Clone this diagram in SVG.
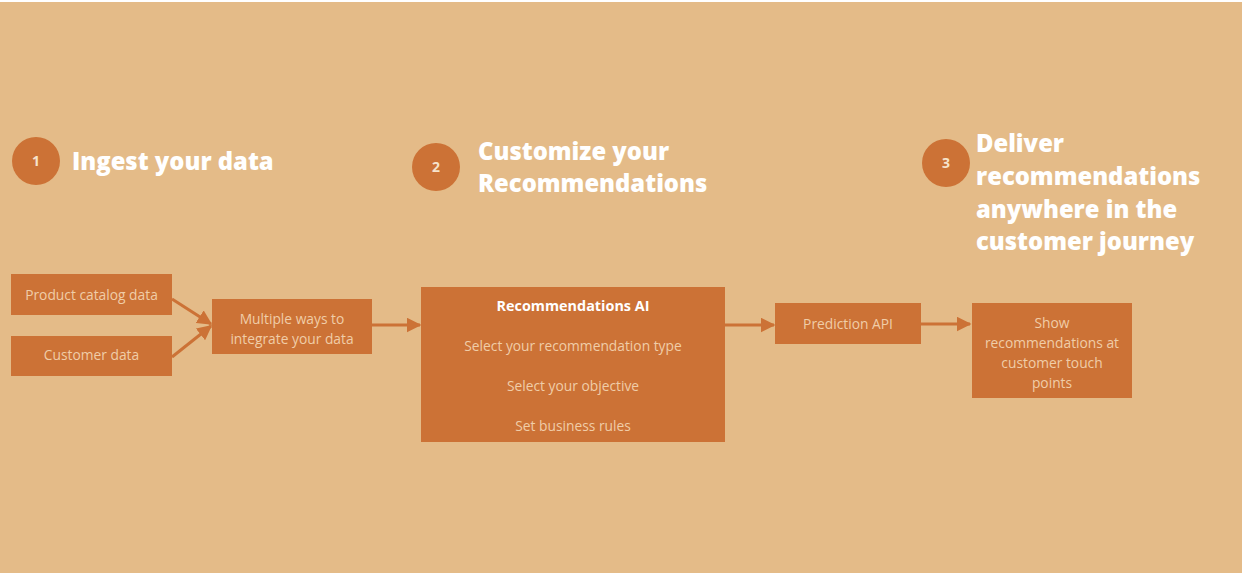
<svg xmlns="http://www.w3.org/2000/svg" width="1248" height="579" viewBox="0 0 1248 579">
<style>
.box{fill:#CC7236;}
.circ{fill:#CC7236;}
.num{font-family:"Open Sans",sans-serif;font-weight:700;font-size:14px;fill:#F6E3CC;text-anchor:middle;}
.head{font-family:"Open Sans",sans-serif;font-weight:800;font-size:23.8px;fill:#FFFFFF;}
.t{font-family:"Open Sans",sans-serif;font-size:13.8px;fill:#F0CDA8;text-anchor:middle;}
.tb{font-family:"Open Sans",sans-serif;font-weight:700;font-size:14.4px;fill:#FFFFFF;text-anchor:middle;}
.conn{stroke:#CC7236;stroke-width:3;fill:none;}
</style>
<defs>
<marker id="ah" viewBox="0 0 10 10" refX="9" refY="5" markerWidth="5" markerHeight="5" markerUnits="strokeWidth" orient="auto">
<path d="M0,0 L10,5 L0,10 Z" fill="#CC7236"/>
</marker>
</defs>
<rect x="0" y="0" width="1248" height="579" fill="#FFFFFF"/>
<rect x="0" y="2" width="1242" height="571" fill="#E4BB88"/>

<g id="step1">
<circle class="circ" cx="36" cy="161" r="24"/>
<text class="num" x="36" y="166">1</text>
<text class="head" x="72" y="170">Ingest your data</text>
</g>
<g id="step2">
<circle class="circ" cx="436" cy="167" r="24"/>
<text class="num" x="436" y="172">2</text>
<text class="head" x="478" y="160">Customize your</text>
<text class="head" x="478" y="192">Recommendations</text>
</g>
<g id="step3">
<circle class="circ" cx="946" cy="163" r="24"/>
<text class="num" x="946" y="168">3</text>
<text class="head" x="976" y="152">Deliver</text>
<text class="head" x="976" y="185">recommendations</text>
<text class="head" x="976" y="218">anywhere in the</text>
<text class="head" x="976" y="250">customer journey</text>
</g>

<g id="connectors">
<line class="conn" x1="172" y1="299" x2="211" y2="324" marker-end="url(#ah)"/>
<line class="conn" x1="172" y1="357" x2="211" y2="326" marker-end="url(#ah)"/>
<line class="conn" x1="372" y1="325" x2="420" y2="325" marker-end="url(#ah)"/>
<line class="conn" x1="725" y1="325" x2="774" y2="325" marker-end="url(#ah)"/>
<line class="conn" x1="921" y1="324" x2="970" y2="324" marker-end="url(#ah)"/>
</g>

<g id="product-catalog">
<rect class="box" x="11" y="274" width="161" height="41"/>
<text class="t" x="91.5" y="300">Product catalog data</text>
</g>
<g id="customer-data">
<rect class="box" x="11" y="336" width="161" height="40"/>
<text class="t" x="91.5" y="360">Customer data</text>
</g>
<g id="multiple-ways">
<rect class="box" x="212" y="299" width="160" height="55"/>
<text class="t" x="292" y="324">Multiple ways to</text>
<text class="t" x="292" y="344">integrate your data</text>
</g>
<g id="recommendations-ai">
<rect class="box" x="421" y="287" width="304" height="155"/>
<text class="tb" x="573" y="311">Recommendations AI</text>
<text class="t" x="573" y="351">Select your recommendation type</text>
<text class="t" x="573" y="391">Select your objective</text>
<text class="t" x="573" y="431">Set business rules</text>
</g>
<g id="prediction-api">
<rect class="box" x="775" y="303" width="146" height="41"/>
<text class="t" x="848" y="329">Prediction API</text>
</g>
<g id="show-recommendations">
<rect class="box" x="972" y="303" width="160" height="95"/>
<text class="t" x="1052" y="328">Show</text>
<text class="t" x="1052" y="348">recommendations at</text>
<text class="t" x="1052" y="368">customer touch</text>
<text class="t" x="1052" y="388">points</text>
</g>
</svg>
